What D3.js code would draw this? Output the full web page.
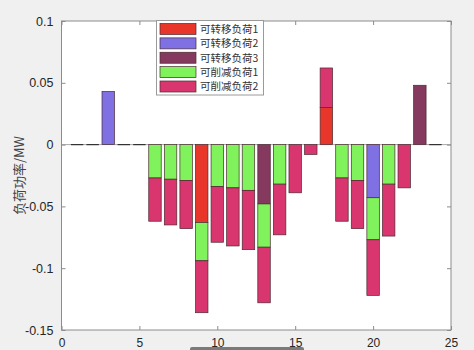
<!DOCTYPE html>
<html>
<head>
<meta charset="utf-8">
<script src="https://cdn.jsdelivr.net/npm/d3@7"></script>
<style>
  html, body { margin: 0; padding: 0; background: #f0f0f0; }
  svg { display: block; }
</style>
</head>
<body>
<svg id="chart" width="474" height="350"></svg>
<script>
// Hours of the day
const hours = d3.range(1, 25);

// Series names (legend order = stacking order)
const seriesNames = ["可转移负荷1", "可转移负荷2", "可转移负荷3", "可削减负荷1", "可削减负荷2"];
const seriesColors = ["#e8372a", "#7f71e3", "#86395f", "#7ff25c", "#d9366f"];

// Load power per hour, MW
const shift1 = [0, 0, 0, 0, 0, 0, 0, 0, -0.063, 0, 0, 0, 0, 0, 0, 0, 0.030, 0, 0, 0, 0, 0, 0, 0];
const shift2 = [0, 0, 0.043, 0, 0, 0, 0, 0, 0, 0, 0, 0, 0, 0, 0, 0, 0, 0, 0, -0.043, 0, 0, 0, 0];
const shift3 = [0, 0, 0, 0, 0, 0, 0, 0, 0, 0, 0, 0, -0.048, 0, 0, 0, 0, 0, 0, 0, 0, 0, 0.048, 0];
const cut1 = [0, 0, 0, 0, 0, -0.027, -0.028, -0.029, -0.031, -0.034, -0.035, -0.037, -0.035, -0.032, 0, 0, 0, -0.027, -0.029, -0.034, -0.032, 0, 0, 0];
const cut2 = [0, 0, 0, 0, 0, -0.035, -0.037, -0.039, -0.042, -0.045, -0.047, -0.048, -0.045, -0.041, -0.039, -0.008, 0.032, -0.035, -0.039, -0.045, -0.042, -0.035, 0, 0];
const seriesValues = [shift1, shift2, shift3, cut1, cut2];

// Axis ticks
const xTicks = [0, 5, 10, 15, 20, 25];
const yTicks = [0.1, 0.05, 0, -0.05, -0.1, -0.15];
const yTickLabels = ["0.1", "0.05", "0", "-0.05", "-0.1", "-0.15"];

const svg = d3.select("#chart");
const plotL = 61.5, plotR = 451, plotT = 21, plotB = 330;

const x = d3.scaleLinear().domain([0, 25]).range([plotL, plotR]);
const y = d3.scaleLinear().domain([-0.15, 0.1]).range([plotB, plotT]);
const barW = 0.8;

// Plot background
svg.append("rect")
  .attr("x", plotL).attr("y", plotT)
  .attr("width", plotR - plotL).attr("height", plotB - plotT)
  .attr("fill", "#ffffff");

// Baseline at zero
svg.append("line")
  .attr("x1", plotL).attr("x2", plotR)
  .attr("y1", y(0)).attr("y2", y(0))
  .attr("stroke", "#a8a8a8").attr("stroke-width", 1);

// Stacked segments: positives and negatives stack separately
const segments = [];
hours.forEach((h, i) => {
  let pos = 0, neg = 0;
  seriesValues.forEach((vals, s) => {
    const v = vals[i];
    if (v > 0) { segments.push({ h, s, y0: pos, y1: pos + v }); pos += v; }
    else if (v < 0) { segments.push({ h, s, y0: neg, y1: neg + v }); neg += v; }
  });
});

svg.append("g").selectAll("rect")
  .data(segments)
  .join("rect")
  .attr("x", d => x(d.h - barW / 2))
  .attr("width", d => x(d.h + barW / 2) - x(d.h - barW / 2))
  .attr("y", d => Math.min(y(d.y0), y(d.y1)))
  .attr("height", d => Math.abs(y(d.y0) - y(d.y1)))
  .attr("fill", d => seriesColors[d.s])
  .attr("stroke", "#4a2a30")
  .attr("stroke-width", 0.7);

// Zero-height bars show as short dashes
const emptyHours = hours.filter((h, i) => seriesValues.every(vals => vals[i] === 0));
svg.append("g").selectAll("line")
  .data(emptyHours)
  .join("line")
  .attr("x1", h => x(h - barW / 2))
  .attr("x2", h => x(h + barW / 2))
  .attr("y1", y(0)).attr("y2", y(0))
  .attr("stroke", "#333333").attr("stroke-width", 1.2);

// Axes frame
svg.append("rect")
  .attr("x", plotL).attr("y", plotT)
  .attr("width", plotR - plotL).attr("height", plotB - plotT)
  .attr("fill", "none").attr("stroke", "#8c8c8c").attr("stroke-width", 1);

const axisColor = "#8c8c8c";
const tickLen = 4;
const tickFont = "Liberation Sans, Arial, sans-serif";

// Bottom axis
const xAxis = d3.axisBottom(x).tickValues(xTicks).tickSizeInner(-tickLen).tickSizeOuter(0).tickPadding(8);
const gx = svg.append("g").attr("transform", `translate(0,${plotB})`).call(xAxis);
// Top axis ticks
const gxTop = svg.append("g").attr("transform", `translate(0,${plotT})`)
  .call(d3.axisTop(x).tickValues(xTicks).tickSizeInner(-tickLen).tickSizeOuter(0).tickFormat(""));
// Left axis
const yAxis = d3.axisLeft(y).tickValues(yTicks).tickSizeInner(-tickLen).tickSizeOuter(0).tickPadding(8)
  .tickFormat((d, i) => yTickLabels[i]);
const gy = svg.append("g").attr("transform", `translate(${plotL},0)`).call(yAxis);
// Right axis ticks
const gyRight = svg.append("g").attr("transform", `translate(${plotR},0)`)
  .call(d3.axisRight(y).tickValues(yTicks).tickSizeInner(-tickLen).tickSizeOuter(0).tickFormat(""));

[gx, gxTop, gy, gyRight].forEach(g => {
  g.select(".domain").remove();
  g.selectAll(".tick line").attr("stroke", axisColor);
  g.selectAll(".tick text")
    .attr("fill", "#262626")
    .style("font-family", tickFont)
    .style("font-size", "12.5px");
});
gx.selectAll(".tick text").style("font-size", "12px");

// Y axis title
svg.append("text")
  .attr("transform", `translate(20,${(plotT + plotB) / 2}) rotate(-90)`)
  .attr("text-anchor", "middle")
  .attr("dominant-baseline", "middle")
  .attr("fill", "#444444")
  .style("font-family", "Noto Sans CJK SC, sans-serif")
  .style("font-size", "13px")
  .text("负荷功率/MW");

// Legend
const legend = svg.append("g");
legend.append("rect")
  .attr("x", 156.5).attr("y", 20.5)
  .attr("width", 107).attr("height", 74.5)
  .attr("fill", "#ffffff").attr("stroke", "#9a9a9a").attr("stroke-width", 1);
const rowY = d3.scaleLinear().domain([0, 4]).range([29, 86.5]);
seriesNames.forEach((name, i) => {
  const cy = rowY(i);
  legend.append("rect")
    .attr("x", 160).attr("y", cy - 5.5)
    .attr("width", 36).attr("height", 11)
    .attr("fill", seriesColors[i])
    .attr("stroke", "#4a2a30").attr("stroke-width", 0.7);
  legend.append("text")
    .attr("x", 200).attr("y", cy + 3.8)
    .attr("fill", "#333333")
    .style("font-family", "Noto Sans CJK SC, sans-serif")
    .style("font-size", "10.5px")
    .text(name);
});

// Window scrollbar strip along the bottom edge
svg.append("rect")
  .attr("x", 190).attr("y", 347)
  .attr("width", 114).attr("height", 5)
  .attr("rx", 2)
  .attr("fill", "#7a7a7a");
</script>
</body>
</html>
